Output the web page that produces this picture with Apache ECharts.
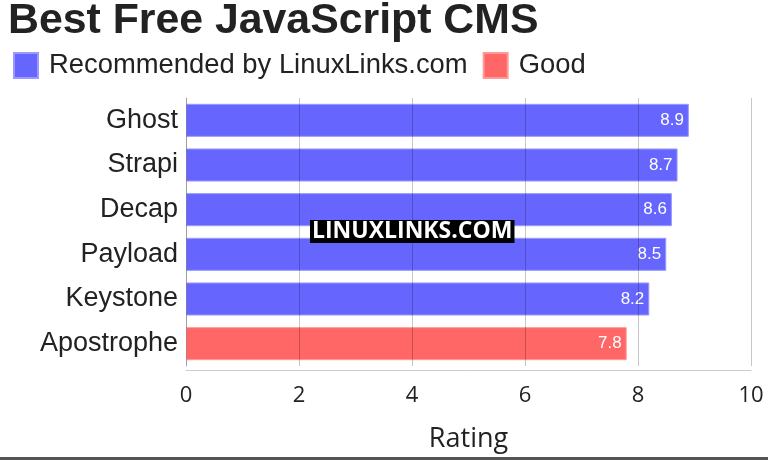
<!DOCTYPE html>
<html>
<head>
<meta charset="utf-8">
<script src="https://cdn.jsdelivr.net/npm/echarts@6/dist/echarts.min.js"></script>
<style>
html,body{margin:0;padding:0;background:#fff;}
#chart{width:768px;height:460px;}
</style>
</head>
<body>
<div id="chart"></div>
<script>
const titleText = 'Best Free JavaScript CMS';
const categories = ['Ghost', 'Strapi', 'Decap', 'Payload', 'Keystone', 'Apostrophe'];
const ratings = [8.9, 8.7, 8.6, 8.5, 8.2, 7.8];
const tiers = ['Recommended by LinuxLinks.com', 'Recommended by LinuxLinks.com', 'Recommended by LinuxLinks.com', 'Recommended by LinuxLinks.com', 'Recommended by LinuxLinks.com', 'Good'];
const seriesNames = ['Recommended by LinuxLinks.com', 'Good'];
const seriesColors = ['#6666ff', '#ff6666'];
const seriesBorders = ['#9999ff', '#ff9999'];
const xTicks = [0, 2, 4, 6, 8, 10];

const chart = echarts.init(document.getElementById('chart'), null, {renderer: 'canvas'});
const baseFont = 'Liberation Sans';
const tickFont = 'Open Sans';

const series = seriesNames.map((name, si) => ({
  name: name,
  type: 'bar',
  stack: 'total',
  barCategoryGap: '26%',
  data: ratings.map((v, i) => tiers[i] === name ? v : null),
  itemStyle: {color: seriesColors[si], borderColor: seriesBorders[si], borderWidth: 1},
  label: {
    show: true, position: 'insideRight', distance: 5,
    color: '#ffffff', fontSize: 17, fontFamily: baseFont
  },
  z: 2
}));

chart.setOption({
  animation: false,
  backgroundColor: '#ffffff',
  title: {
    text: titleText, left: 8, top: 0, padding: 0,
    textStyle: {fontSize: 42.8, fontWeight: 'bold', color: '#222222', fontFamily: baseFont}
  },
  legend: {
    left: 13, top: 52, padding: 0,
    itemWidth: 24, itemHeight: 25, itemGap: 15,
    icon: 'rect',
    data: seriesNames,
    textStyle: {fontSize: 27.4, color: '#222222', fontFamily: baseFont, padding: [0, 0, 0, 6]}
  },
  grid: {left: 186, right: 17, top: 98, bottom: 94, containLabel: false},
  xAxis: {
    type: 'value', min: xTicks[0], max: xTicks[xTicks.length - 1], interval: 2,
    offset: 4, z: 5,
    name: 'Rating', nameLocation: 'middle', nameGap: 56,
    nameTextStyle: {fontSize: 27, color: '#222222', fontFamily: tickFont},
    axisLine: {show: true, lineStyle: {color: '#cccccc', width: 1}},
    axisTick: {show: false},
    axisLabel: {fontSize: 22, color: '#222222', fontFamily: tickFont, margin: 15},
    splitLine: {show: true, lineStyle: {color: 'rgba(0,0,0,0.22)', width: 1}}
  },
  yAxis: {
    type: 'category', data: categories, inverse: true,
    axisLine: {show: true, lineStyle: {color: '#cccccc', width: 1}},
    axisTick: {show: false},
    axisLabel: {fontSize: 27, color: '#222222', fontFamily: baseFont, margin: 8, padding: [7, 0, 0, 0]}
  },
  series: series,
  graphic: [
    {
      type: 'text', left: 310, top: 220, z: 100,
      style: {
        text: 'LINUXLINKS.COM', fill: '#ffffff', font: 'bold 23px "Open Sans"',
        backgroundColor: '#000000', padding: [0, 2, 0, 2]
      }
    },
    {
      type: 'rect', left: 0, top: 457, z: 100,
      shape: {width: 768, height: 3},
      style: {fill: '#555555'}
    }
  ]
});
</script>
</body>
</html>
